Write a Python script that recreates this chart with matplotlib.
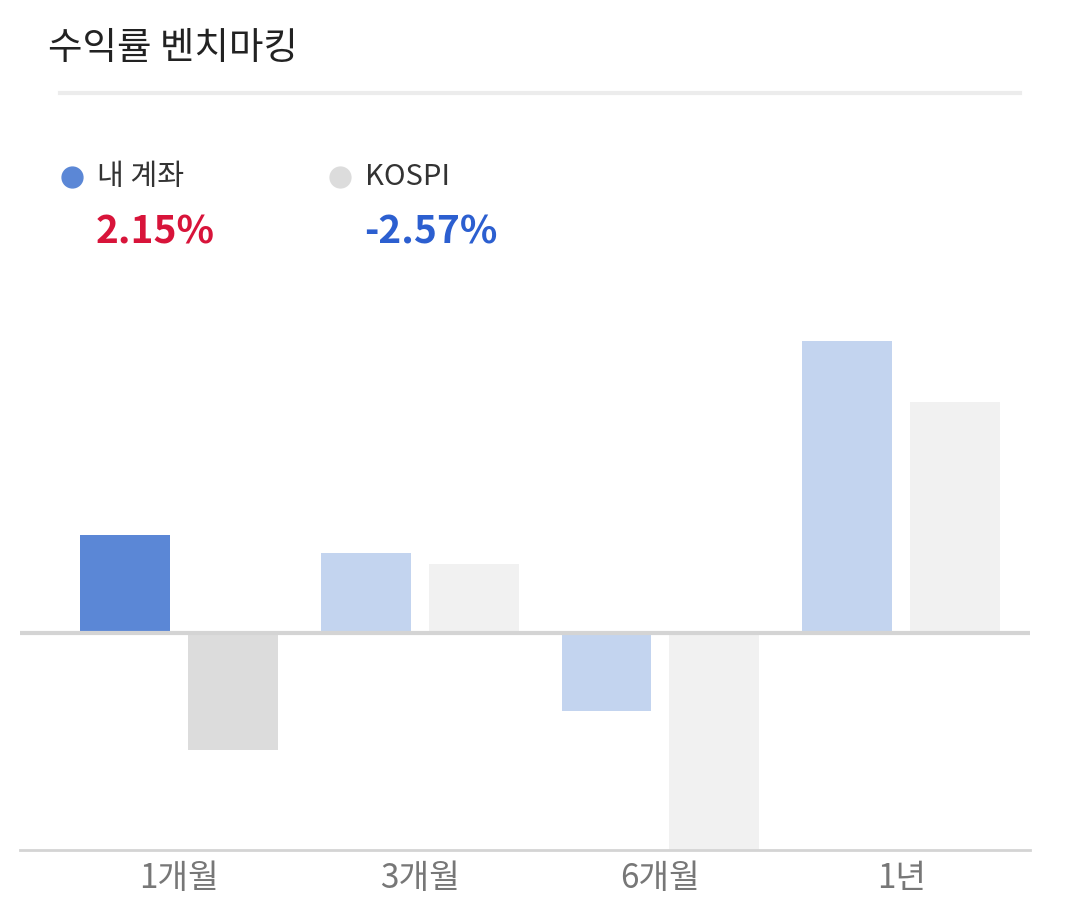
import numpy as np
import matplotlib.pyplot as plt

plt.rcParams['font.family'] = ['Noto Sans CJK KR', 'DejaVu Sans']

periods = ['1개월', '3개월', '6개월', '1년']
my_returns = [2.15, 1.75, -1.71, 6.40]
kospi_returns = [-2.57, 1.51, -4.76, 5.07]
my_label, kospi_label = '내 계좌', 'KOSPI'
my_value, kospi_value = '2.15%', '-2.57%'

my_colors = ['#5b87d6', '#c3d4ef', '#c3d4ef', '#c3d4ef']
kospi_colors = ['#dcdcdc', '#f1f1f1', '#f1f1f1', '#f1f1f1']

fig = plt.figure(figsize=(10.8, 9.23), dpi=100)
W, H = 1080, 923
ax = fig.add_axes([20 / W, 1 - 850 / H, 1010 / W, 550 / H])

x = np.arange(len(periods))
bw = 90 / 241
off = 54 / 241
ax.bar(x - off, my_returns, width=bw, color=my_colors, zorder=2)
ax.bar(x + off, kospi_returns, width=bw, color=kospi_colors, zorder=2)
ax.axhline(0, color='#d4d4d4', lw=3, zorder=3)
ax.set_xlim(-0.66, 3.535)
ax.set_ylim(-4.76, 7.30)
ax.set_yticks([])
ax.set_xticks([])
for s in ['top', 'right', 'left']:
    ax.spines[s].set_visible(False)
ax.spines['bottom'].set_color('#d4d4d4')
ax.spines['bottom'].set_linewidth(2)
for xi, p in zip(x, periods):
    ax.text(xi, -4.76, p, transform=ax.transData, ha='center', va='top',
            fontsize=24, color='#777777')
# push tick labels down a bit
for t in ax.texts:
    t.set_position((t.get_position()[0], -5.0))

fig.text(48 / W, 1 - 48 / H, '수익률 벤치마킹', fontsize=27, color='#222222',
         va='center', ha='left')
fig.add_artist(plt.Line2D([60 / W, 1020 / W], [1 - 93 / H] * 2, color='#ececec', lw=3))

fig.add_artist(plt.Line2D([72 / W], [1 - 177 / H], marker='o', markersize=15,
                          color='#5b87d6', lw=0))
fig.text(97 / W, 1 - 177 / H, my_label, fontsize=21, color='#333333', va='center')
fig.text(96 / W, 1 - 232 / H, my_value, fontsize=28, color='#d8143a',
         fontweight='bold', va='center')
fig.add_artist(plt.Line2D([340 / W], [1 - 177 / H], marker='o', markersize=15,
                          color='#dcdcdc', lw=0))
fig.text(365 / W, 1 - 177 / H, kospi_label, fontsize=21, color='#333333', va='center')
fig.text(364 / W, 1 - 232 / H, kospi_value, fontsize=28, color='#2c5fd0',
         fontweight='bold', va='center')

fig.savefig('out.png', dpi=100)
